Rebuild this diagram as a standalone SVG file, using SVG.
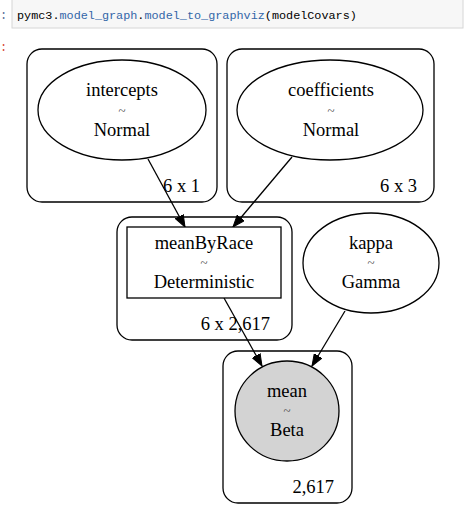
<svg xmlns="http://www.w3.org/2000/svg" width="474" height="506" viewBox="0 0 474 506">
<defs>
<marker id="ah" markerWidth="13" markerHeight="10" refX="12" refY="5" orient="auto" markerUnits="userSpaceOnUse">
<path d="M0,0.5 L12,5 L0,9.5 Z" fill="#000" stroke="#000" stroke-width="1"/>
</marker>
</defs>
<style>
.plate{fill:none;stroke:#000;stroke-width:1.3}
.node{fill:#fff;stroke:#000;stroke-width:1.3}
.obs{fill:#d3d3d3;stroke:#000;stroke-width:1.3}
.lbl{font-family:"Liberation Serif","Times New Roman",serif;font-size:18.5px;fill:#000;text-anchor:middle}
.tl{font-family:"Liberation Serif","Times New Roman",serif;font-size:13px;fill:#444;text-anchor:middle}
.pl{font-family:"Liberation Serif","Times New Roman",serif;font-size:18.5px;fill:#000;text-anchor:end}
.code{font-family:"Liberation Mono","DejaVu Sans Mono",monospace;font-size:11.8px;fill:#000}
.attr{fill:#3366a8}
.edge{stroke:#000;stroke-width:1.3;fill:none}
</style>
<rect width="474" height="506" fill="#fff"/>
<g id="code-cell">
<rect x="12" y="-1" width="451" height="29" fill="#f7f7f7" stroke="#d6d6d6"/>
<text x="0" y="19" style="font-family:'Liberation Mono',monospace;font-size:12px;fill:#5b6e99">:</text>
<text x="0" y="51" style="font-family:'Liberation Mono',monospace;font-size:12px;fill:#d84a3a">:</text>
<text x="17" y="19" class="code">pymc3.<tspan class="attr">model_graph</tspan>.<tspan class="attr">model_to_graphviz</tspan>(modelCovars)</text>
</g>
<g id="plate-6x1">
<rect x="27" y="49" width="190" height="153" rx="15" class="plate"/>
<text x="200" y="192" class="pl">6 x 1</text>
</g>
<g id="plate-6x3">
<rect x="227" y="49" width="207" height="153" rx="15" class="plate"/>
<text x="417" y="192" class="pl">6 x 3</text>
</g>
<g id="plate-6x2617">
<rect x="117" y="217" width="175" height="123" rx="15" class="plate"/>
<text x="270" y="330" class="pl">6 x 2,617</text>
</g>
<g id="plate-2617">
<rect x="223" y="351" width="129" height="152" rx="15" class="plate"/>
<text x="334" y="493" class="pl">2,617</text>
</g>
<g id="connectors">
<line x1="148" y1="159" x2="185" y2="227" class="edge" marker-end="url(#ah)"/>
<line x1="292" y1="157" x2="233" y2="227" class="edge" marker-end="url(#ah)"/>
<line x1="224" y1="298" x2="262" y2="366" class="edge" marker-end="url(#ah)"/>
<line x1="345" y1="311" x2="312" y2="366" class="edge" marker-end="url(#ah)"/>
</g>
<g id="intercepts">
<ellipse cx="122" cy="110" rx="84" ry="50" class="node"/>
<text x="122" y="96" class="lbl">intercepts</text>
<text x="122" y="115" class="tl">~</text>
<text x="122" y="136" class="lbl">Normal</text>
</g>
<g id="coefficients">
<ellipse cx="330" cy="110" rx="93" ry="50" class="node"/>
<text x="331" y="96" class="lbl">coefficients</text>
<text x="331" y="115" class="tl">~</text>
<text x="331" y="136" class="lbl">Normal</text>
</g>
<g id="meanByRace">
<rect x="127" y="227" width="154" height="71" class="node"/>
<text x="204" y="249" class="lbl">meanByRace</text>
<text x="204" y="267" class="tl">~</text>
<text x="204" y="288" class="lbl">Deterministic</text>
</g>
<g id="kappa">
<ellipse cx="371" cy="263" rx="68" ry="50" class="node"/>
<text x="371" y="249" class="lbl">kappa</text>
<text x="371" y="267" class="tl">~</text>
<text x="371" y="288" class="lbl">Gamma</text>
</g>
<g id="mean">
<ellipse cx="287" cy="411" rx="52" ry="50" class="obs"/>
<text x="287" y="397" class="lbl">mean</text>
<text x="287" y="415" class="tl">~</text>
<text x="287" y="436" class="lbl">Beta</text>
</g>
</svg>
